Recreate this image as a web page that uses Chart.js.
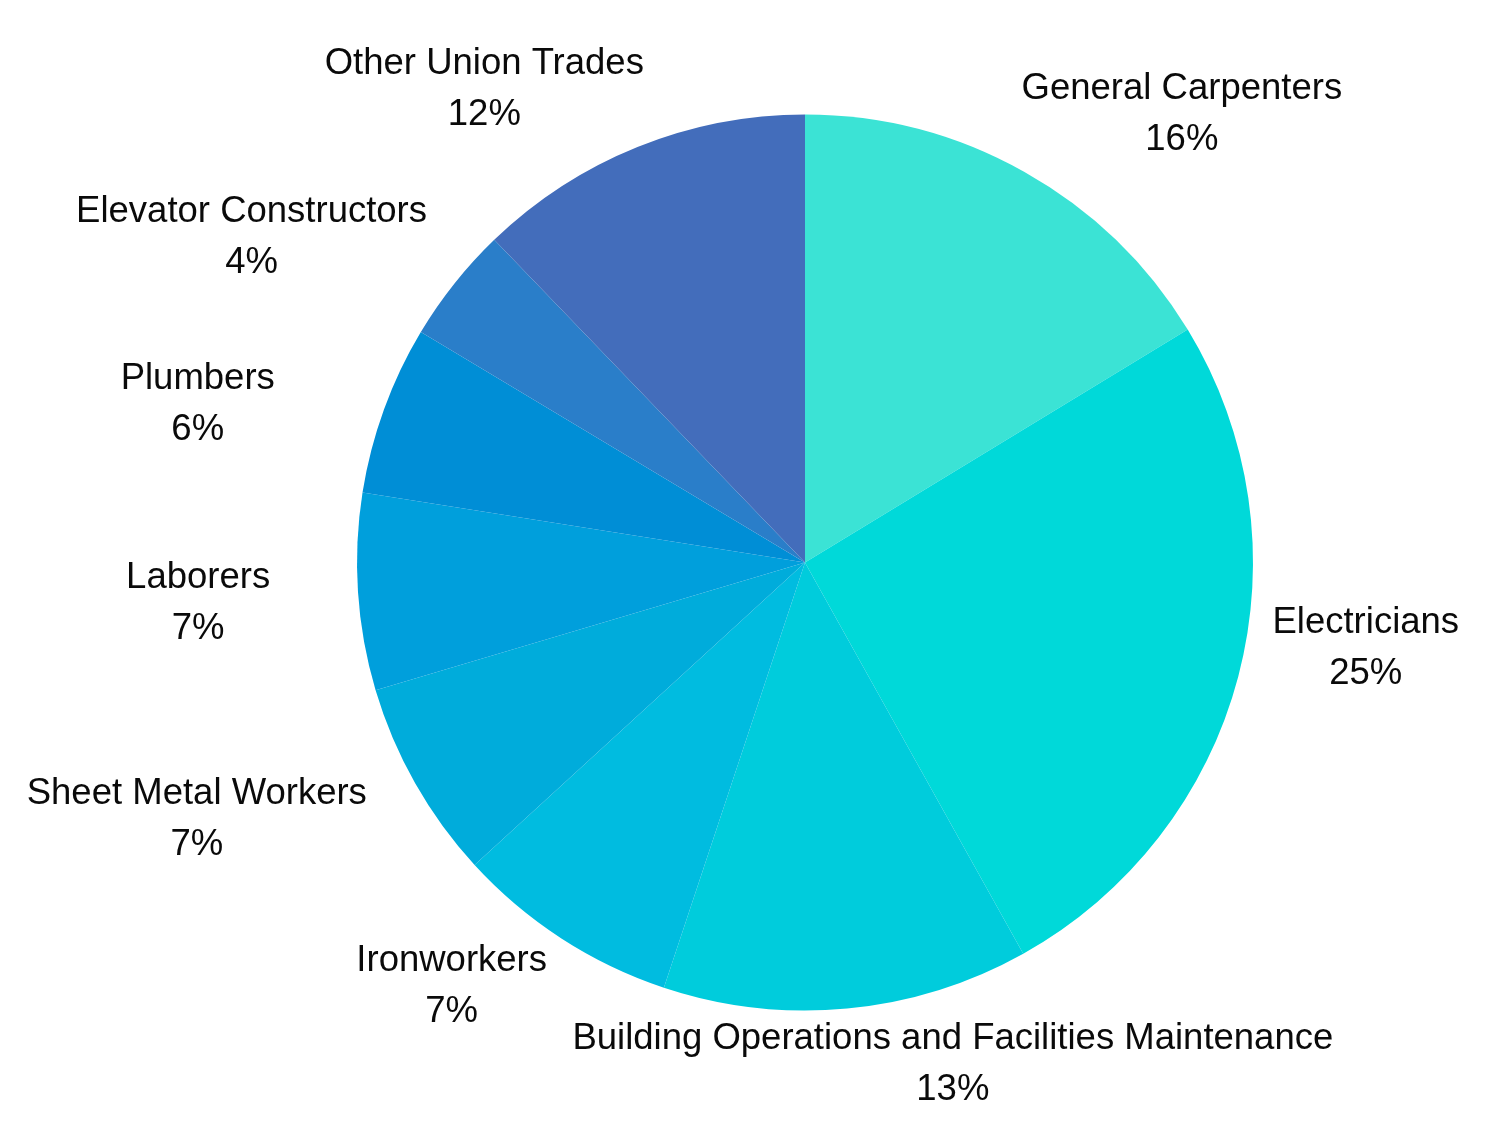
<!DOCTYPE html>
<html>
<head>
<meta charset="utf-8">
<title>Union trades</title>
<script src="https://cdn.jsdelivr.net/npm/chart.js@4/dist/chart.umd.min.js"></script>
<style>
  html, body { margin: 0; padding: 0; background: #fff; }
  #wrap { width: 1500px; height: 1125px; }
</style>
</head>
<body>
<div id="wrap"><canvas id="chartTrades" width="1500" height="1125"></canvas></div>
<script>
const trades = [
  'General Carpenters',
  'Electricians',
  'Building Operations and Facilities Maintenance',
  'Ironworkers',
  'Sheet Metal Workers',
  'Laborers',
  'Plumbers',
  'Elevator Constructors',
  'Other Union Trades'
];
const shares = [16.3, 25.6, 13.2, 8.1, 7.2, 7.1, 6.1, 4.2, 12.2];
const shareLabels = ['16%', '25%', '13%', '7%', '7%', '7%', '6%', '4%', '12%'];

const sliceColors = ['#3be3d5', '#00d9d9', '#00ccdc', '#00bce0', '#00acdb', '#009fdc', '#008ed6', '#2a7ec9', '#436dbb'];

// label placement: point just outside the rim at the slice middle, then small nudges
const labelNudge = [[69, -3], [18, -47], [68, -11], [-47, -9], [-53, 2], [-68, 5], [-95, 15], [-50, -8], [-86, 1]];

const outsideLabels = {
  id: 'outsideLabels',
  afterDatasetsDraw(chart) {
    const ctx = chart.ctx;
    const meta = chart.getDatasetMeta(0);
    ctx.save();
    ctx.font = '36.5px "Liberation Sans", Arial, sans-serif';
    ctx.fillStyle = '#0a0a0a';
    ctx.textAlign = 'center';
    ctx.textBaseline = 'alphabetic';
    meta.data.forEach((arc, i) => {
      const p = arc.getProps(['x', 'y', 'startAngle', 'endAngle', 'outerRadius'], true);
      const mid = (p.startAngle + p.endAngle) / 2;
      const r = p.outerRadius + 20;
      const w = Math.max(ctx.measureText(trades[i]).width, ctx.measureText(shareLabels[i]).width);
      const h = 90;
      const cx = p.x + Math.cos(mid) * r + Math.cos(mid) * w / 2 + labelNudge[i][0];
      const cy = p.y + Math.sin(mid) * r + Math.sin(mid) * h / 2 + labelNudge[i][1];
      ctx.fillText(trades[i], cx, cy - 25.5 + 12);
      ctx.fillText(shareLabels[i], cx, cy + 25.5 + 12);
    });
    ctx.restore();
  }
};

const chartTrades = new Chart(document.getElementById('chartTrades').getContext('2d'), {
  type: 'pie',
  data: {
    labels: trades,
    datasets: [{
      data: shares,
      backgroundColor: sliceColors,
      borderWidth: 0
    }]
  },
  options: {
    responsive: false,
    animation: false,
    layout: {
      padding: { top: 114.5, bottom: 114.5, left: 357, right: 247 }
    },
    plugins: {
      legend: { display: false },
      tooltip: { enabled: false }
    }
  },
  plugins: [outsideLabels]
});
</script>
</body>
</html>
